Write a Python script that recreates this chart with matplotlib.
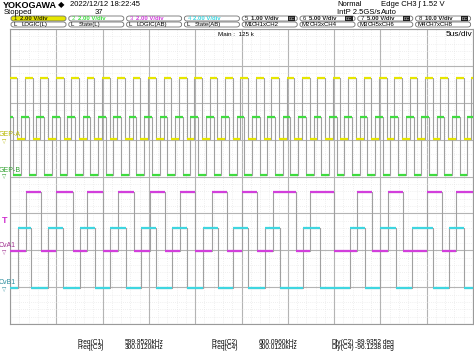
import matplotlib
matplotlib.use("Agg")
import matplotlib.pyplot as plt
from matplotlib.patches import FancyBboxPatch
import numpy as np

plt.rcParams['font.family'] = ['Liberation Sans', 'DejaVu Sans']

W, H = 474, 355

# edge times in us (0..50 us, 5 us/div), start level 1 = high, 0 = low
ch1_start = 1
ch1_edges = [0.79, 1.62, 2.45, 3.28, 4.11, 4.95, 5.78, 6.61, 7.44, 8.27, 9.10, 9.94,
             10.76, 11.59, 12.42, 13.25, 14.08, 14.91, 15.75, 16.58, 17.41, 18.24,
             19.07, 19.90, 20.73, 21.57, 22.40, 23.23, 24.06, 24.89, 25.72, 26.56,
             27.38, 28.21, 29.04, 29.87, 30.70, 31.53, 32.37, 33.20, 34.03, 34.86,
             35.69, 36.52, 37.35, 38.19, 39.02, 39.85, 40.68, 41.51, 42.34, 43.17,
             44.00, 44.83, 45.66, 46.49, 47.32, 48.15, 48.99, 49.82]
ch2_start = 1
ch2_edges = [0.37, 1.20, 2.03, 2.86, 3.69, 4.53, 5.36, 6.19, 7.02, 7.85, 8.68, 9.52,
             10.35, 11.17, 12.00, 12.83, 13.66, 14.49, 15.32, 16.16, 16.99, 17.82,
             18.65, 19.48, 20.31, 21.15, 21.98, 22.81, 23.64, 24.47, 25.30, 26.14,
             26.97, 27.79, 28.62, 29.45, 30.28, 31.11, 31.94, 32.78, 33.61, 34.44,
             35.27, 36.10, 36.93, 37.77, 38.60, 39.43, 40.26, 41.09, 41.92, 42.75,
             43.58, 44.41, 45.24, 46.07, 46.90, 47.73, 48.56, 49.40]
ch3_start = 0
ch3_edges = [1.73, 3.35, 4.97, 6.80, 8.32, 10.04, 11.66, 13.39, 15.12, 16.74, 18.36,
             19.98, 21.82, 23.43, 25.05, 26.67, 28.40, 30.89, 32.40, 34.99, 37.47,
             39.09, 40.82, 42.44, 45.03, 46.66, 48.17]
ch4_start = 0
ch4_edges = [0.86, 2.27, 4.10, 5.72, 7.56, 9.18, 10.80, 12.53, 14.15, 15.77, 17.50,
             19.12, 20.84, 22.46, 24.08, 25.70, 27.54, 29.16, 31.64, 33.48, 36.72,
             38.34, 39.96, 41.69, 43.42, 45.68, 47.41, 49.03]

# low / high level in divisions (0 = bottom of screen)
ch1_levels = (5.01, 6.67)
ch2_levels = (4.04, 5.61)
ch3_levels = (1.98, 3.58)
ch4_levels = (0.98, 2.60)

ch_colors = ['#e6e600', '#3fdc3f', '#d23fdc', '#3fd6e0']

trace_labels = ['GEP-A', 'GEP-B', 'CvA1', 'CvB1']
label_colors = ['#b8b800', '#2fa02f', '#a03090', '#2f90a0']

vdiv = ['2.00 V/div', '2.00 V/div', '2.00 V/div', '2.00 V/div',
        '1.00 V/div', '5.00 V/div', '5.00 V/div', '10.0 V/div']
row2_tags = ['L', 'L', 'L', 'L', 'M1', 'M2', 'M3', 'M4']
row2_names = ['LOGIC(L)', 'State(L)', 'LOGIC(AB)', 'State(AB)',
              'CH1xCH2', 'CH3xCH4', 'CH5xCH6', 'CH7xCH8']

meas_names = [['Freq(C1)', 'Freq(C3)'], ['Freq(C2)', 'Freq(C4)'], ['Dly(C2)', 'Dly(C4)']]
meas_values = [['599.9520kHz', '300.0120kHz'], ['600.0960kHz', '300.0120kHz'],
               ['-89.9352 deg', '-96.1238 deg']]


def fx(x):
    return x / W


def fy(y):
    return 1 - y / H


def build(edges, start, levels):
    xs = [0.0] + list(edges) + [50.0]
    st = start
    ys = []
    for i in range(len(xs) - 1):
        ys.append(levels[st])
        st = 1 - st
    ys.append(ys[-1])
    return np.array(xs), np.array(ys)


fig = plt.figure(figsize=(W / 100, H / 100), dpi=100)
fig.patch.set_facecolor('white')

gx0, gx1, gy0, gy1 = 10, 473, 29, 324
ax = fig.add_axes([fx(gx0), fy(gy1), fx(gx1 - gx0), (gy1 - gy0) / H])
ax.set_xlim(0, 50)
ax.set_ylim(0, 8)
ax.set_xticks(np.arange(0, 51, 5))
ax.set_yticks(np.arange(0, 9, 1))
ax.set_xticks(np.arange(0, 50.1, 1), minor=True)
ax.set_yticks(np.arange(0, 8.01, 0.2), minor=True)
ax.grid(which='major', color='#b4b4b4', lw=0.8)
ax.grid(which='minor', color='#e2e2e2', lw=0.5, ls=(0, (1, 2)))
ax.tick_params(which='both', length=0, labelbottom=False, labelleft=False)
for s in ax.spines.values():
    s.set_color('#9a9a9a')
    s.set_linewidth(0.8)

channels = [(ch1_edges, ch1_start, ch1_levels), (ch2_edges, ch2_start, ch2_levels),
            (ch3_edges, ch3_start, ch3_levels), (ch4_edges, ch4_start, ch4_levels)]
for (edges, start, lv), col in zip(channels, ch_colors):
    xs, ys = build(edges, start, lv)
    ax.step(xs, ys, where='post', color='#a0a0a0', lw=0.8, zorder=3)
    ax.hlines(ys[:-1], xs[:-1], xs[1:], color=col, lw=1.6, zorder=4)

# left side labels + ground markers
for lab, lc, lv in zip(trace_labels, label_colors,
                       [ch1_levels, ch2_levels, ch3_levels, ch4_levels]):
    ypx = gy1 - lv[0] * (gy1 - gy0) / 8
    fig.text(fx(-1), fy(ypx - 5), lab, color=lc, fontsize=5, ha='left', va='center')
    fig.text(fx(4), fy(ypx + 2), '▽', color=lc, fontsize=4, ha='center', va='center',
             family='DejaVu Sans')
fig.text(fx(5), fy(221), 'T', color='#d030d0', fontsize=6.5, fontweight='bold',
         ha='center', va='center')

# header
fig.text(fx(3), fy(5), 'YOKOGAWA', fontsize=6.5, fontweight='bold', va='center')
fig.text(fx(58), fy(5), '◆', fontsize=6, va='center', family='DejaVu Sans')
fig.text(fx(70), fy(5), '2022/12/12 18:22:45', fontsize=5.5, va='center')
fig.text(fx(4), fy(12), 'Stopped', fontsize=5.5, va='center')
fig.text(fx(95), fy(12), '37', fontsize=5.5, va='center')
fig.text(fx(337), fy(4), 'Normal', fontsize=5.5, va='center')
fig.text(fx(337), fy(12), 'IntP 2.5GS/s', fontsize=5.5, va='center')
fig.text(fx(381), fy(4), 'Edge CH3 ʃ 1.52 V', fontsize=5.5, va='center')
fig.text(fx(381), fy(12), 'Auto', fontsize=5.5, va='center')

for i in range(8):
    bx = 11 + i * 57.8
    bw = 55
    col = ch_colors[i] if i < 4 else '#202020'
    fc = ch_colors[0] if i == 0 else 'white'
    box = FancyBboxPatch((fx(bx), fy(21)), fx(bw), 5 / H,
                         boxstyle='round,pad=0,rounding_size=0.006',
                         transform=fig.transFigure, fc=fc, ec='#707070', lw=0.6)
    fig.add_artist(box)
    box2 = FancyBboxPatch((fx(bx), fy(27)), fx(bw), 5 / H,
                          boxstyle='round,pad=0,rounding_size=0.006',
                          transform=fig.transFigure, fc='white', ec='#707070', lw=0.6)
    fig.add_artist(box2)
    tcol = '#303000' if i == 0 else col
    fig.text(fx(bx + 3), fy(18.5), '%d' % (i + 1), fontsize=4.3, color=tcol, va='center')
    fig.text(fx(bx + 9), fy(18.5), vdiv[i], fontsize=4.3, color=tcol, va='center',
             fontweight='bold')
    if i >= 4:
        fig.text(fx(bx + 46), fy(18.5), 'DC', fontsize=3, color='white', va='center',
                 bbox=dict(fc='#202020', ec='none', pad=0.4))
    fig.text(fx(bx + 2), fy(24.3), row2_tags[i], fontsize=4.3, va='center')
    fig.text(fx(bx + 10), fy(24.3), row2_names[i], fontsize=4.3, va='center')

fig.text(fx(218), fy(34), 'Main :  125 k', fontsize=4.5, va='center')
fig.text(fx(472), fy(34), '5us/div', fontsize=6, va='center', ha='right')

# measurements
for j, xm in enumerate([78, 212, 331]):
    for k in range(2):
        yy = 342 + k * 5.5
        fig.text(fx(xm), fy(yy), meas_names[j][k], fontsize=4.8, va='center')
        fig.text(fx(xm + 47 if j < 2 else xm + 24), fy(yy), meas_values[j][k],
                 fontsize=4.8, va='center')

fig.savefig('out.png', dpi=100)
